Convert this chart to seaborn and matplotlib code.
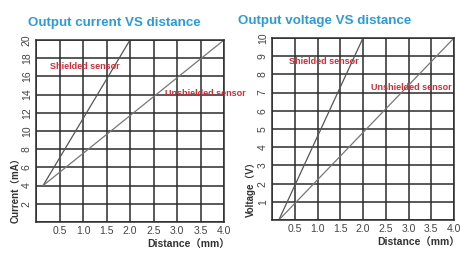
import numpy as np
import pandas as pd
import seaborn as sns
import matplotlib.pyplot as plt

# data
shielded_dist = [0.15, 2.0]
shielded_current = [4, 20]
unshielded_dist = [0.15, 4.0]
unshielded_current = [4, 20]

shielded_dist_v = [0.15, 2.0]
shielded_voltage = [0, 10]
unshielded_dist_v = [0.15, 4.0]
unshielded_voltage = [0, 10]

x_ticks = [0.5, 1.0, 1.5, 2.0, 2.5, 3.0, 3.5, 4.0]
current_ticks = [2, 4, 6, 8, 10, 12, 14, 16, 18, 20]
voltage_ticks = [1, 2, 3, 4, 5, 6, 7, 8, 9, 10]

sns.set_style("white")
plt.rcParams['font.family'] = ['Liberation Sans', 'Noto Sans CJK SC', 'DejaVu Sans']

title_col = '#2e9bd6'
label_red = '#c8303a'
line_col = '#555555'
grid_col = '#2b2b2b'

fig = plt.figure(figsize=(4.74, 2.79), dpi=100)
ax1 = fig.add_axes([36/474, 1-222/279, 188/474, 182/279])
ax2 = fig.add_axes([272/474, 1-220/279, 182/474, 182/279])


def style_axes(ax, yticks, ymax):
    ax.set_xlim(0, 4.0)
    ax.set_ylim(0, ymax)
    ax.set_xticks(np.arange(0, 4.01, 0.5))
    ax.set_xticklabels([''] + [f'{t:.1f}' for t in x_ticks])
    ax.set_yticks([0] + yticks)
    ax.set_yticklabels([''] + [str(t) for t in yticks], rotation=90, va='center')
    ax.grid(True, color=grid_col, linewidth=1.1)
    ax.tick_params(length=0, labelsize=7.5, colors='#444444', pad=3)
    for s in ax.spines.values():
        s.set_color(grid_col)
        s.set_linewidth(1.1)
    ax.set_axisbelow(True)


sns.lineplot(x=shielded_dist, y=shielded_current, ax=ax1, color=line_col, linewidth=0.9)
sns.lineplot(x=unshielded_dist, y=unshielded_current, ax=ax1, color='#777777', linewidth=0.9)
style_axes(ax1, current_ticks, 20)
ax1.text(0.3, 17.1, 'Shielded sensor', color=label_red, fontsize=6.5, fontweight='bold', va='center')
ax1.text(2.74, 14.1, 'Unshielded sensor', color=label_red, fontsize=6.5, fontweight='bold',
         va='center', clip_on=False)
ax1.set_ylabel('Current（mA）', fontsize=7, fontweight='bold', color='#333333')
ax1.yaxis.set_label_coords(-0.08, 0.19)
ax1.set_xlabel('Distance（mm）', fontsize=7.5, fontweight='bold', color='#333333')
ax1.xaxis.set_label_coords(1.03, -0.1)
ax1.xaxis.get_label().set_ha('right')

sns.lineplot(x=shielded_dist_v, y=shielded_voltage, ax=ax2, color=line_col, linewidth=0.9)
sns.lineplot(x=unshielded_dist_v, y=unshielded_voltage, ax=ax2, color='#777777', linewidth=0.9)
style_axes(ax2, voltage_ticks, 10)
ax2.text(0.37, 8.7, 'Shielded sensor', color=label_red, fontsize=6.5, fontweight='bold', va='center')
ax2.text(2.18, 7.3, 'Unshielded sensor', color=label_red, fontsize=6.5, fontweight='bold', va='center')
ax2.set_ylabel('Voltage（V）', fontsize=7, fontweight='bold', color='#333333')
ax2.yaxis.set_label_coords(-0.088, 0.18)
ax2.set_xlabel('Distance（mm）', fontsize=7.5, fontweight='bold', color='#333333')
ax2.xaxis.set_label_coords(1.03, -0.1)
ax2.xaxis.get_label().set_ha('right')

fig.text(28/474, 1-23/279, 'Output current VS distance', color=title_col, fontsize=9.6,
         fontweight='bold', va='center')
fig.text(238/474, 1-21/279, 'Output voltage VS distance', color=title_col, fontsize=9.6,
         fontweight='bold', va='center')

fig.savefig('out.png', dpi=100)
